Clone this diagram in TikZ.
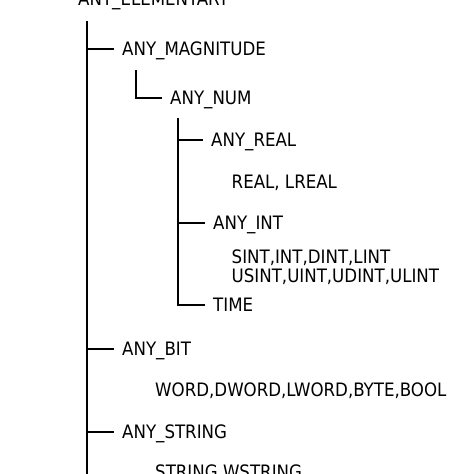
\documentclass[tikz,border=0pt]{standalone}
\usepackage{fontspec}
\setmainfont{DejaVu Sans Condensed}
\usetikzlibrary{positioning}

\begin{document}
\begin{tikzpicture}[
x=1pt,y=-1pt,
type/.style={font=\fontsize{18.5}{18.5}\selectfont,anchor=west,inner xsep=8pt,inner ysep=0pt,text height=13.5pt,text depth=0pt},
leaf/.style={font=\fontsize{18.5}{18.6}\selectfont,anchor=base west,inner sep=0pt,align=left},
branch/.style={line width=2pt,line join=miter} ]

\useasboundingbox (0,0) rectangle (474,474);

\node[type] (elem) at (70,-1) {ANY\_ELEMENTARY};

\node[type] (mag) at (114,49) {ANY\_MAGNITUDE};

\node[type] (num) at (162,98) {ANY\_NUM};

\node[type] (real) at (203,139.5) {ANY\_REAL};

\node[leaf] (reallist) at (231.5,188) {REAL, LREAL};

\node[type] (int) at (205,222.5) {ANY\_INT};

\node[leaf] (intlist) at (231.5,282) {SINT,INT,DINT,LINT\\USINT,UINT,UDINT,ULINT};

\node[type] (time) at (205,304.5) {TIME};

\node[type] (bit) at (114,348.5) {ANY\_BIT};

\node[leaf] (bitlist) at (155,396.5) {WORD,DWORD,LWORD,BYTE,BOOL};

\node[type] (str) at (114,431.5) {ANY\_STRING};

\node[leaf] (strlist) at (155,478.5) {STRING,WSTRING};

\coordinate (elemstem) at (87,21);
\coordinate (elemend) at (87,474);
\coordinate (magstem) at (136,70);
\coordinate (numstem) at (178,118);

\draw[branch] (elemstem) -- (elemend);

\foreach \n in {mag,bit,str}
  \draw[branch] (elemstem |- \n.west) -- (\n.west);

\draw[branch] (magstem) |- (num.west);

\draw[branch] (numstem) |- (time.west);

\foreach \n in {real,int}
  \draw[branch] (numstem |- \n.west) -- (\n.west);

\end{tikzpicture}
\end{document}
